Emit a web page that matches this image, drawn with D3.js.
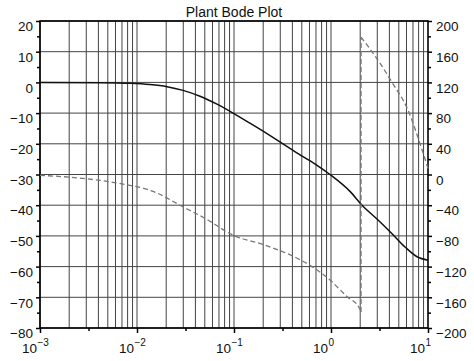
<!DOCTYPE html>
<html lang="en">

<head>
    <meta charset="UTF-8">
    <title>Plant Bode Plot</title>
    <script src="https://d3js.org/d3.v7.min.js"></script>
    <style>
        body {
            margin: 0;
            background: #fff;
        }

        text {
            font-family: "Liberation Sans", Arial, sans-serif;
            fill: #111;
        }

        .grid line {
            stroke: #444;
            stroke-width: 1px;
        }

        .axis path,
        .axis line {
            stroke: #000;
            stroke-width: 1.5px;
        }
    </style>
</head>

<body>
    <script>
        // magnitude (dB, left axis)
        const magFreq = [0.001, 0.00416, 0.00848, 0.0136, 0.0204, 0.0298, 0.0446, 0.0668, 0.0977, 0.146,
            0.219, 0.320, 0.479, 0.718, 0.977, 1.57, 2.09, 2.98, 4.26, 5.79, 7.71, 10];
        const magDb = [0, -0.1, -0.3, -0.7, -1.4, -2.6, -4.5, -7.1, -10, -13.3,
            -16.7, -20, -23.6, -27, -30, -35.5, -40, -44.5, -49.3, -53.6, -56.8, -57.9];

        // phase (deg, right axis) - wraps from -180 to +180 near 2 rad/s
        const phaseFreq = [0.001, 0.0027, 0.0062, 0.016, 0.0277, 0.050, 0.102, 0.198, 0.479, 0.637,
            0.977, 1.46, 1.96, 2.04, 2.04, 3.05, 4.26, 6.22, 8.28, 10];
        const phaseDeg = [-1, -5, -11, -24, -40, -57, -80, -91, -111, -120,
            -137.5, -159, -174, -179, 179, 149, 120, 84, 40, 8];

        const leftTicks = [20, 10, 0, -10, -20, -30, -40, -50, -60, -70, -80];
        const rightTicks = [200, 160, 120, 80, 40, 0, -40, -80, -120, -160, -200];
        const decades = [-3, -2, -1, 0, 1];

        const width = 474, height = 361;
        const margin = { top: 21, right: 46, bottom: 33, left: 40 };

        const svg = d3.select("body").append("svg")
            .attr("width", width)
            .attr("height", height);

        const x = d3.scaleLog()
            .domain([1e-3, 10])
            .range([margin.left, width - margin.right]);

        const yL = d3.scaleLinear()
            .domain([-80, 20])
            .range([height - margin.bottom, margin.top]);

        const yR = d3.scaleLinear()
            .domain([-200, 200])
            .range([height - margin.bottom, margin.top]);

        // grid lines: every 1..9 x 10^n vertically, every 10 dB horizontally
        const xGrid = [];
        decades.slice(0, -1).forEach(n => {
            for (let k = 1; k <= 9; k++) xGrid.push(k * Math.pow(10, n));
        });

        const grid = svg.append("g").attr("class", "grid");
        grid.selectAll(".vx")
            .data(xGrid)
            .join("line")
            .attr("class", "vx")
            .attr("x1", d => x(d))
            .attr("x2", d => x(d))
            .attr("y1", yL(20))
            .attr("y2", yL(-80));
        grid.selectAll(".hy")
            .data(leftTicks)
            .join("line")
            .attr("class", "hy")
            .attr("x1", x(1e-3))
            .attr("x2", x(10))
            .attr("y1", d => yL(d))
            .attr("y2", d => yL(d));

        // minor ticks (half steps)
        const leftMinor = d3.range(15, -80, -10);
        const rightMinor = d3.range(180, -200, -40);
        const xMinor = decades.slice(0, -1).map(n => Math.pow(10, n + 0.5));

        function styleAxis(g) {
            g.attr("class", "axis");
            g.select(".domain").remove();
            g.selectAll("text").style("font-size", "13.5px");
        }

        svg.append("g")
            .attr("transform", `translate(${margin.left},0)`)
            .call(d3.axisLeft(yL).tickValues(leftTicks).tickSize(4).tickPadding(3)
                .tickFormat(d => d < 0 ? "\u2212" + Math.abs(d) : d))
            .call(styleAxis)
            .call(g => g.selectAll("text").attr("dy", "0.72em"));

        svg.append("g")
            .attr("transform", `translate(${margin.left},0)`)
            .call(d3.axisLeft(yL).tickValues(leftMinor).tickSize(3).tickFormat(""))
            .call(styleAxis);

        svg.append("g")
            .attr("transform", `translate(${width - margin.right},0)`)
            .call(d3.axisRight(yR).tickValues(rightTicks).tickSize(4).tickPadding(4)
                .tickFormat(d => d < 0 ? "\u2212" + Math.abs(d) : d))
            .call(styleAxis)
            .call(g => g.selectAll("text").attr("dy", "0.72em"));

        svg.append("g")
            .attr("transform", `translate(${width - margin.right},0)`)
            .call(d3.axisRight(yR).tickValues(rightMinor).tickSize(3).tickFormat(""))
            .call(styleAxis);

        svg.append("g")
            .attr("transform", `translate(0,${height - margin.bottom})`)
            .call(d3.axisBottom(x).tickValues(decades.map(n => Math.pow(10, n))).tickSize(5).tickFormat(""))
            .call(styleAxis);

        svg.append("g")
            .attr("transform", `translate(0,${height - margin.bottom})`)
            .call(d3.axisBottom(x).tickValues(xMinor).tickSize(3).tickFormat(""))
            .call(styleAxis);

        // x labels as 10 with superscript exponent
        const xLab = svg.append("g").selectAll("g")
            .data(decades)
            .join("g")
            .attr("transform", d => `translate(${x(Math.pow(10, d)) - 3},${height - margin.bottom + 25})`);
        xLab.append("text")
            .attr("text-anchor", "end")
            .style("font-size", "13.5px")
            .text("10");
        xLab.append("text")
            .attr("x", 0.5)
            .attr("y", -7)
            .style("font-size", "10px")
            .text(d => d < 0 ? "\u2212" + Math.abs(d) : d);

        // frame
        svg.append("rect")
            .attr("x", x(1e-3))
            .attr("y", yL(20))
            .attr("width", x(10) - x(1e-3))
            .attr("height", yL(-80) - yL(20))
            .attr("fill", "none")
            .attr("stroke", "#000")
            .attr("stroke-width", 1.6);

        // magnitude line
        const magData = magFreq.map((f, i) => ({ f: f, v: magDb[i] }));
        svg.append("path")
            .datum(magData)
            .attr("fill", "none")
            .attr("stroke", "#111")
            .attr("stroke-width", 1.5)
            .attr("d", d3.line().curve(d3.curveMonotoneX)
                .x(d => x(d.f))
                .y(d => yL(d.v)));

        // phase line, split at the wrap so each piece stays smooth
        const phaseData = phaseFreq.map((f, i) => ({ f: f, v: phaseDeg[i] }));
        const segments = [[phaseData[0]]];
        for (let i = 1; i < phaseData.length; i++) {
            if (Math.abs(phaseData[i].v - phaseData[i - 1].v) > 180) {
                segments.push([phaseData[i - 1], phaseData[i]]);
                segments.push([phaseData[i]]);
            } else {
                segments[segments.length - 1].push(phaseData[i]);
            }
        }
        const phaseLine = d3.line()
            .x(d => x(d.f))
            .y(d => yR(d.v));
        svg.append("g").selectAll("path")
            .data(segments)
            .join("path")
            .attr("fill", "none")
            .attr("stroke", "#777")
            .attr("stroke-width", 1.3)
            .attr("stroke-dasharray", "5,3")
            .attr("d", d => phaseLine.curve(d.length > 2 ? d3.curveMonotoneX : d3.curveLinear)(d));

        // title
        svg.append("text")
            .attr("x", (x(1e-3) + x(10)) / 2)
            .attr("y", 17)
            .attr("text-anchor", "middle")
            .style("font-size", "14px")
            .text("Plant Bode Plot");
    </script>
</body>

</html>
